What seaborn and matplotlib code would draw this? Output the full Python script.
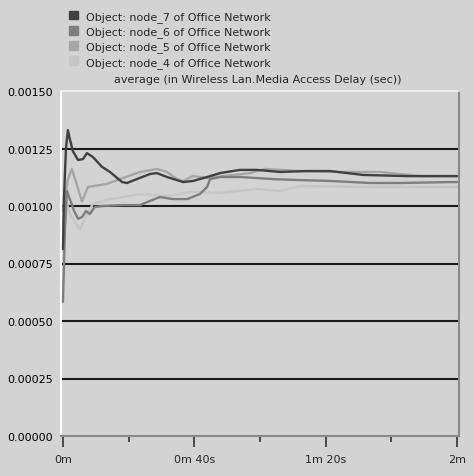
import numpy as np
import pandas as pd
import matplotlib
matplotlib.use("Agg")
import matplotlib.pyplot as plt
from matplotlib.patches import Patch
import seaborn as sns

# ---- data (time in seconds, delay in seconds) ----
series_names = [
    "Object: node_7 of Office Network",
    "Object: node_6 of Office Network",
    "Object: node_5 of Office Network",
    "Object: node_4 of Office Network",
]
series_colors = ["#404040", "#7e7e7e", "#a6a6a6", "#c6c6c6"]

node7_t = [0.0, 0.3, 0.9, 1.5, 2.1, 3.0, 4.6, 6.1, 7.3, 9.1, 11.9, 14.3, 18.0, 19.5,
           22.5, 26.5, 28.6, 31.7, 36.6, 39.6, 43.9, 47.8, 53.9, 59.1, 66.1, 74.3,
           81.3, 91.4, 104.8, 117.9, 120.0]
node7_v = [0.000813, 0.001030, 0.001248, 0.001330, 0.001291, 0.001239, 0.001200,
           0.001204, 0.001230, 0.001213, 0.001170, 0.001148, 0.001104, 0.001100,
           0.001117, 0.001139, 0.001143, 0.001126, 0.001104, 0.001109, 0.001126,
           0.001143, 0.001157, 0.001157, 0.001148, 0.001152, 0.001152, 0.001135,
           0.001130, 0.001130, 0.001130]

node6_t = [0.0, 0.6, 1.2, 2.1, 3.4, 4.6, 5.8, 7.0, 8.2, 9.7, 12.2, 18.3, 23.5, 26.5,
           29.5, 33.5, 37.8, 41.7, 43.9, 44.8, 47.8, 53.9, 64.0, 71.3, 81.3, 93.5,
           102.6, 117.9, 120.0]
node6_v = [0.000583, 0.000900, 0.001065, 0.001030, 0.000978, 0.000944, 0.000952,
           0.000978, 0.000965, 0.000996, 0.001000, 0.001004, 0.001004, 0.001022,
           0.001039, 0.001030, 0.001030, 0.001052, 0.001083, 0.001117, 0.001126,
           0.001126, 0.001117, 0.001113, 0.001109, 0.001100, 0.001100, 0.001104,
           0.001104]

node5_t = [0.0, 1.5, 2.7, 5.8, 7.6, 13.4, 17.4, 23.5, 28.6, 31.7, 34.7, 36.6, 39.6,
           43.9, 48.7, 57.0, 61.5, 72.2, 84.4, 96.6, 102.6, 108.7, 120.0]
node5_v = [0.000980, 0.001117, 0.001161, 0.001020, 0.001083, 0.001096, 0.001117,
           0.001148, 0.001161, 0.001148, 0.001117, 0.001109, 0.001130, 0.001122,
           0.001130, 0.001143, 0.001161, 0.001152, 0.001148, 0.001148, 0.001139,
           0.001130, 0.001130]

node4_t = [0.0, 0.9, 2.1, 4.0, 5.2, 6.7, 9.1, 14.3, 18.3, 23.5, 31.7, 38.7, 47.8,
           59.1, 66.1, 72.2, 90.5, 120.0]
node4_v = [0.000900, 0.001030, 0.000965, 0.000922, 0.000900, 0.000944, 0.001009,
           0.001030, 0.001039, 0.001052, 0.001043, 0.001061, 0.001057, 0.001074,
           0.001065, 0.001087, 0.001083, 0.001083]

y_ticks = [0.0, 0.00025, 0.0005, 0.00075, 0.001, 0.00125, 0.0015]
x_major = [0, 40, 80, 120]
x_major_labels = ["0m", "0m 40s", "1m 20s", "2m"]
x_minor = [20, 60, 100]
title = "average (in Wireless Lan.Media Access Delay (sec))"

frames = []
for name, t, v in zip(series_names,
                      [node7_t, node6_t, node5_t, node4_t],
                      [node7_v, node6_v, node5_v, node4_v]):
    frames.append(pd.DataFrame({"time": t, "delay": v, "series": name}))
df = pd.concat(frames, ignore_index=True)

bg = "#d3d3d3"
sns.set_style("white")
plt.rcParams["font.family"] = ["DejaVu Sans"]

fig = plt.figure(figsize=(4.74, 4.77), dpi=100, facecolor=bg)
ax = fig.add_axes([61 / 474, 1 - 437 / 477, (459 - 61) / 474, (437 - 92) / 477])
ax.set_facecolor(bg)

for yv in y_ticks[1:-1]:
    ax.axhline(yv, color="#1a1a1a", lw=1.5, zorder=1)

# draw lightest first so darker lines are on top
draw_order = list(reversed(series_names))
palette = dict(zip(series_names, series_colors))
sns.lineplot(data=df, x="time", y="delay", hue="series", hue_order=draw_order,
             palette=palette, lw=1.7, legend=False, ax=ax, estimator=None,
             sort=False, zorder=3)

ax.set_xlim(-0.6, 120.6)
ax.set_ylim(0, 0.0015)
ax.set_xlabel("")
ax.set_ylabel("")

ax.set_yticks(y_ticks)
ax.set_yticklabels([f"{v:.5f}" for v in y_ticks])
ax.set_xticks(x_major)
ax.set_xticklabels(x_major_labels)
ax.set_xticks(x_minor, minor=True)
ax.tick_params(axis="y", length=0, pad=6, labelsize=8, colors="#000000")
ax.tick_params(axis="x", which="major", direction="out", length=8, width=1.2,
               color="#333333", labelsize=8, pad=5, bottom=True)
ax.tick_params(axis="x", which="minor", direction="out", length=4, width=1.2,
               color="#333333", bottom=True)

for side, col, w in [("left", "#ffffff", 1.5), ("top", "#f2f2f2", 1.2),
                     ("right", "#8a8a8a", 1.5), ("bottom", "#8a8a8a", 1.5)]:
    ax.spines[side].set_visible(True)
    ax.spines[side].set_color(col)
    ax.spines[side].set_linewidth(w)

handles = [Patch(facecolor=c, edgecolor=c) for c in series_colors]
fig.legend(handles, series_names, loc="upper left",
           bbox_to_anchor=(63 / 474, 1 - 6 / 477), frameon=False,
           fontsize=8, handlelength=0.85, handleheight=0.85,
           handletextpad=0.75, labelspacing=0.37, borderpad=0.0)

fig.text(258 / 474, 1 - 80 / 477, title, ha="center", va="center", fontsize=8)

fig.savefig("out.png", dpi=100, facecolor=bg)
